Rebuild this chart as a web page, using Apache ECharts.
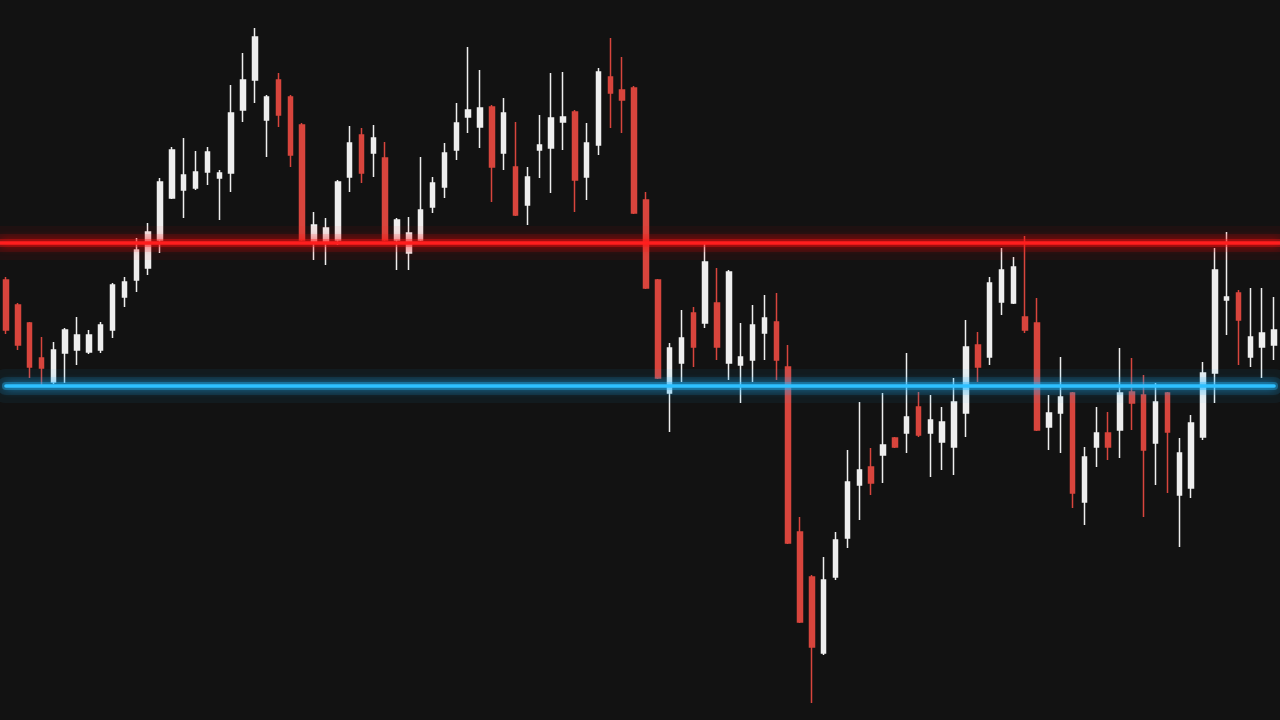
<!DOCTYPE html>
<html>
<head>
<meta charset="utf-8">
<script src="https://cdn.jsdelivr.net/npm/echarts@6/dist/echarts.min.js"></script>
<style>
html,body{margin:0;padding:0;background:#121212;}
#chart{width:1280px;height:720px;}
</style>
</head>
<body>
<div id="chart"></div>
<script>
// Each candle: [open, close, low, high]
const candles = [
[210,197.5,196.5,210.75],[203.75,193.75,192.5,204.25],[199.25,188.25,185.5,199.5],[190.5,188,183.25,195.75],
[184.5,192.5,184,194.5],[191.75,197.5,184.25,198],[192.5,196.25,188.75,200.75],[192,196.25,191.5,197.5],
[192.5,198.75,191.75,199.5],[197.5,208.75,195.5,209.25],[205.75,209.5,203.25,210.75],[210,217.5,207,220.5],
[213,222,211.25,224.25],[220,234.5,216.75,235.5],[230.5,242.5,230.25,243.25],[232.5,236.25,225.5,245.5],
[233,237,232.5,242.25],[237,242,233.75,243.25],[235.5,236.75,225,237.5],[236.75,251.75,232,258.75],
[252.5,260,249.5,266.75],[260,270.75,254.25,273],[250,255.75,240.75,256.25],[260,251.25,248.25,261.75],
[255.75,241.25,238.25,256.25],[248.75,220,219.75,249.25],[219.5,223.75,215,227],[219.5,223,213.75,225.5],
[220,234.5,218.75,235],[235.75,244.25,232,248.5],[246.25,236.75,234.25,248],[241.75,245.5,235.75,248.75],
[240.5,220,219.75,244.5],[220,225,212.5,225.5],[216.75,221.75,212.5,225.75],[220,227.5,219.75,240.75],
[228.25,234.25,226.75,235.75],[233.25,241.75,230.5,244.25],[242.5,249.25,240,254.25],[250.75,252.5,246.75,268.25],
[248.25,253,243,262.5],[253.25,238.25,229.5,253.75],[241.75,251.75,237.5,255.5],[238.25,226.25,226,249.5],
[228.75,235.75,223.75,238.25],[242.5,243.75,235.5,251.25],[243,250.5,231.75,261.75],[249.5,250.75,242.5,262],
[252,235,227,252.5],[235.75,244.25,230,249.25],[243.75,262,241.25,263],[260.75,256.75,248,270.5],
[257.5,255,246.75,265.75],[258,226.75,226.5,258.5],[230,208,207.75,232],[210,185.5,185.25,210.25],
[181.75,193,172,194.25],[189.25,195.5,184.5,202.5],[201.75,193.25,188.25,203.25],[199.25,214.5,198,219.5],
[204.25,193.25,190,213],[189.25,212,185,212.5],[188.75,190.75,179.25,199.25],[190,198.75,184.5,203.75],
[196.75,200.5,190,206.25],[199.5,190,185,206.75],[188.25,144.25,144,193.75],[147,124.5,124.25,150.75],
[135.75,118.25,104.25,136.25],[116.75,135,116.25,140.75],[135.75,145,135,147],[145.5,159.5,143,167.5],
[158.75,162.5,150,179.5],[163.25,159.25,156.25,168],[166.25,168.75,159.25,181.75],[170.5,168.25,168,170.75],
[171.75,175.75,166.75,191.75],[178.25,171.25,170.75,182],[171.75,175,160.75,181.25],[169.5,174.5,162.5,178.25],
[168.25,179.5,161.25,185.5],[176.75,193.25,170.75,200],[193.75,188.25,184.5,197],[190.75,209.25,188.75,210.75],
[204.5,212.5,201.25,218],[204.25,213.25,204,215.75],[200.75,197.5,196.75,221],[199.25,172.5,172.25,205.5],
[173.25,176.75,167.5,181.25],[176.75,180.75,166.75,190.75],[181.75,156.75,153,182],[154.5,165.75,148.75,168.25],
[168.25,171.75,163.25,178.25],[171.75,168.25,165,177],[172.5,181.75,165.5,193],[182,179.25,172.5,190.5],
[181.25,167.5,150.75,186.25],[169.25,179.5,158.75,184.25],[181.75,172,156.75,182],[156.25,166.75,143.25,170.5],
[158,174.25,155.5,176.25],[170.75,186.75,170,189.5],[186.75,212.5,179.25,218],[205,205.75,196.25,222],
[206.75,200,188.75,207.5],[190.75,195.75,188.25,208],[193.25,196.75,185.5,208],[193.75,197.5,190,205.75]
];
const categories = candles.map((_, i) => 'D' + (i + 1));
const resistanceLevel = 219.25;
const supportLevel = 183.5;

const chart = echarts.init(document.getElementById('chart'));
const redGlow = [
  {w: 34, c: 'rgba(255,20,20,0.06)'},
  {w: 18, c: 'rgba(255,20,20,0.12)'},
  {w: 8, c: 'rgba(255,30,30,0.35)'},
  {w: 3.5, c: '#ff1e1e', blur: 10, sc: '#ff0000'}
];
const blueGlow = [
  {w: 34, c: 'rgba(30,180,255,0.06)'},
  {w: 18, c: 'rgba(30,180,255,0.12)'},
  {w: 8, c: 'rgba(40,190,255,0.35)'},
  {w: 3.5, c: '#2ec0ff', blur: 10, sc: '#1ab0ff'}
];
const mlData = [];
redGlow.forEach(g => mlData.push({yAxis: resistanceLevel, lineStyle: {color: g.c, width: g.w, type: 'solid', shadowBlur: g.blur || 0, shadowColor: g.sc || 'transparent'}}));
blueGlow.forEach(g => mlData.push([
  {coord: [0, supportLevel], lineStyle: {color: g.c, width: g.w, type: 'solid', cap: 'round', shadowBlur: g.blur || 0, shadowColor: g.sc || 'transparent'}},
  {coord: [candles.length - 1, supportLevel]}
]));

chart.setOption({
  backgroundColor: '#121212',
  animation: false,
  grid: {left: 0, right: 0, top: 0, bottom: 0},
  xAxis: {type: 'category', data: categories, show: false, boundaryGap: true},
  yAxis: {type: 'value', min: 100, max: 280, show: false, splitLine: {show: false}},
  series: [
    {
      type: 'candlestick',
      data: candles,
      barWidth: 5,
      itemStyle: {
        color: '#eeeeee', color0: '#d8453d',
        borderColor: '#eeeeee', borderColor0: '#d8453d',
        borderWidth: 1.5
      },
      z: 2
    },
    {
      type: 'line',
      data: [],
      z: 5,
      markLine: {
        silent: true,
        symbol: ['none', 'none'],
        label: {show: false},
        data: mlData
      }
    }
  ]
});
</script>
</body>
</html>
